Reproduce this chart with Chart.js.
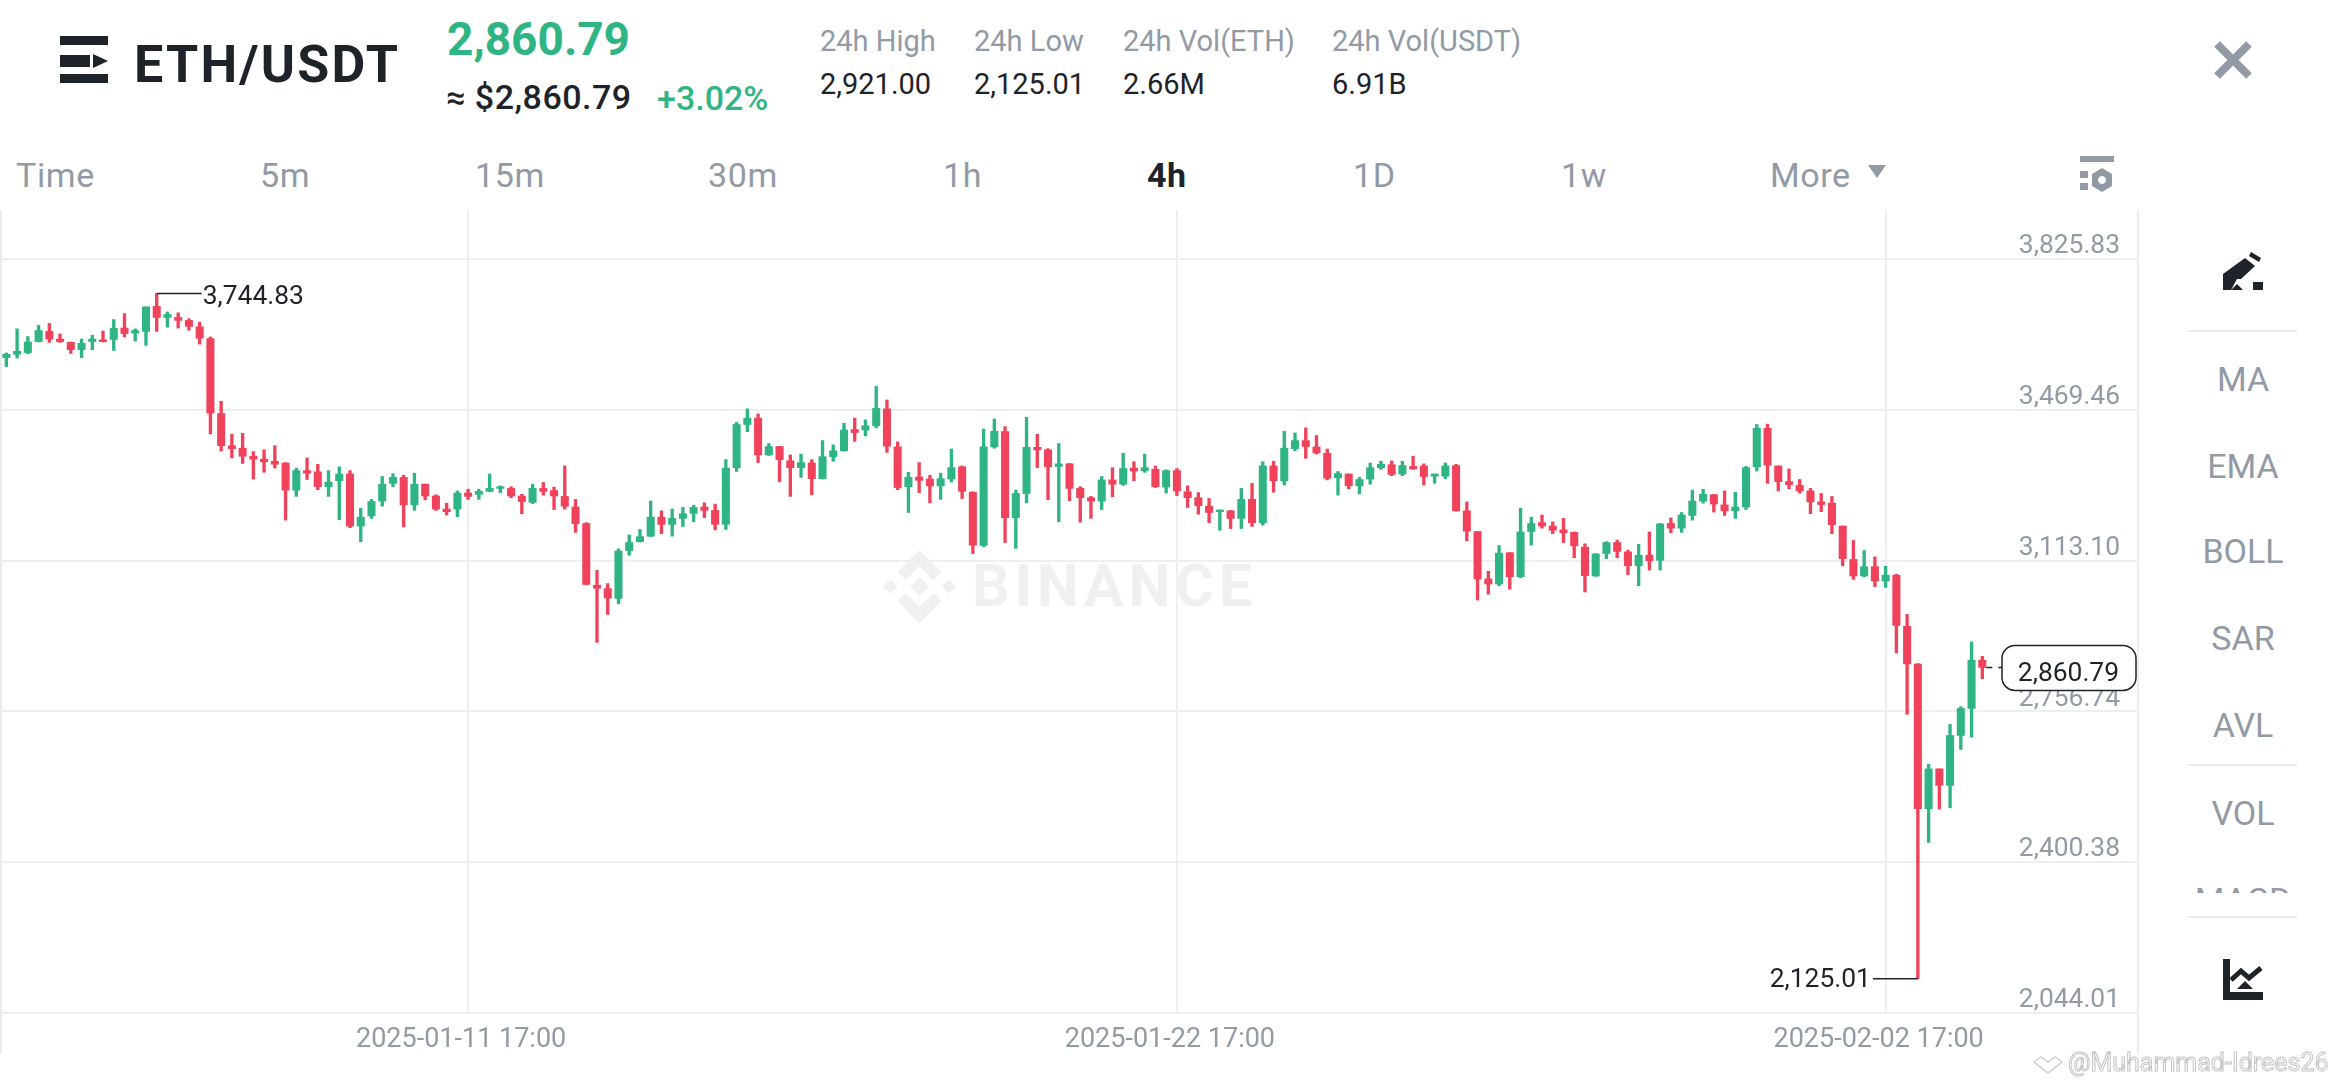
<!DOCTYPE html>
<html>
<head>
<meta charset="utf-8">
<title>ETH/USDT</title>
<script src="https://cdn.jsdelivr.net/npm/chart.js@4"></script>
<style>
html,body{margin:0;padding:0;background:#fff;width:2340px;height:1080px;overflow:hidden;font-family:Roboto,sans-serif;}
.t{position:absolute;white-space:nowrap;line-height:40px;height:40px;}
.grey{color:#929aa5;}
.dark{color:#1e2329;}
.green{color:#2fb583;}
.tab{font-size:34px;top:155px;color:#929aa5;letter-spacing:.6px;}
.stat{font-size:29px;}
.side{font-size:34px;color:#929aa5;width:160px;left:2163px;text-align:center;}
.hair{position:absolute;left:2187px;width:110px;height:2px;background:#eaecef;}
.vline{position:absolute;top:210px;width:2px;height:844px;background:#eaecef;}
svg{position:absolute;}
canvas{position:absolute;left:0;top:205px;}
</style>
</head>
<body>
<svg style="left:60px;top:36px" width="48" height="47" viewBox="0 0 48 47" fill="#1e2329">
<rect width="48" height="9"/><rect y="19" width="30" height="12"/><polygon points="33,18 48,25 33,32"/><rect y="38" width="48" height="9"/>
</svg>
<div class="t dark" style="left:134px;top:45px;font-size:52px;font-weight:700;letter-spacing:2.2px">ETH/USDT</div>
<div class="t green" style="left:447px;top:19px;font-size:46px;font-weight:700">2,860.79</div>
<div class="t dark" style="left:446px;top:77px;font-size:34px;font-weight:500;letter-spacing:.5px">≈ $2,860.79</div>
<div class="t green" style="left:657px;top:78px;font-size:34px;font-weight:500">+3.02%</div>
<div class="t stat grey" style="left:820px;top:21px">24h High</div>
<div class="t stat dark" style="left:820px;top:64px">2,921.00</div>
<div class="t stat grey" style="left:974px;top:21px">24h Low</div>
<div class="t stat dark" style="left:974px;top:64px">2,125.01</div>
<div class="t stat grey" style="left:1123px;top:21px">24h Vol(ETH)</div>
<div class="t stat dark" style="left:1123px;top:64px">2.66M</div>
<div class="t stat grey" style="left:1332px;top:21px">24h Vol(USDT)</div>
<div class="t stat dark" style="left:1332px;top:64px">6.91B</div>
<svg style="left:2214px;top:41px" width="38" height="38" viewBox="0 0 38 38"><path d="M3 3 L35 35 M35 3 L3 35" stroke="#929aa5" stroke-width="8"/></svg>

<div class="t tab" style="left:16px">Time</div>
<div class="t tab" style="left:260px">5m</div>
<div class="t tab" style="left:475px">15m</div>
<div class="t tab" style="left:708px">30m</div>
<div class="t tab" style="left:943px">1h</div>
<div class="t tab dark" style="left:1147px;font-weight:700;color:#1e2329">4h</div>
<div class="t tab" style="left:1353px">1D</div>
<div class="t tab" style="left:1561px">1w</div>
<div class="t tab" style="left:1770px">More</div>
<svg style="left:1868px;top:165px" width="18" height="13" viewBox="0 0 18 13"><polygon points="0,0 18,0 9,13" fill="#929aa5"/></svg>
<svg style="left:2080px;top:156px" width="34" height="36" viewBox="0 0 34 36" fill="#929aa5">
<rect width="34" height="6"/><rect y="15" width="8" height="7"/><rect y="27" width="8" height="7"/><path d="M22 12 L32 18 L32 30 L22 36 L12 30 L12 18 Z M22 20 a4 4 0 1 0 0.01 0 Z" fill-rule="evenodd"/>
</svg>

<!-- watermark -->
<svg style="left:883px;top:550px" width="73" height="73" viewBox="0 0 100 100" fill="#eef0f1">
<polygon points="50,37 63,50 50,63 37,50"/><polygon points="0,50 10,40 20,50 10,60"/><polygon points="80,50 90,40 100,50 90,60"/>
<polygon points="50,0 80,30 69,41 50,22 31,41 20,30"/><polygon points="50,100 80,70 69,59 50,78 31,59 20,70"/>
</svg>
<div class="t" style="left:972px;top:566px;font-size:59px;font-weight:700;color:#eef0f1;letter-spacing:5px">BINANCE</div>

<div class="vline" style="left:0"></div>
<div class="vline" style="left:2137px"></div>
<canvas id="klineChart" width="2142" height="851"></canvas>

<svg style="left:2223px;top:252px" width="40" height="38" viewBox="0 0 40 38" fill="#1e2329">
<polygon points="0,22 22,6 32,14 18,27 14,27 8,38 0,38"/><polygon points="28,0 38,6 36,10 26,4"/><polygon points="14,32 20,38 8,38"/><rect x="30" y="30" width="10" height="8"/>
</svg>
<div class="hair" style="top:330px"></div>
<div class="t side" style="top:359px">MA</div>
<div class="t side" style="top:446px">EMA</div>
<div class="t side" style="top:531px">BOLL</div>
<div class="t side" style="top:618px">SAR</div>
<div class="t side" style="top:705px">AVL</div>
<div class="hair" style="top:764px"></div>
<div class="t side" style="top:793px">VOL</div>
<div style="position:absolute;left:2163px;top:860px;width:160px;height:33px;overflow:hidden">
<div class="t side" style="left:0;top:20px">MACD</div>
</div>
<div class="hair" style="top:916px"></div>
<svg style="left:2223px;top:959px" width="40" height="41" viewBox="0 0 40 41" fill="#1e2329">
<path d="M0 0 H7 V33 H40 V41 H0 Z"/><path d="M8 21 L18 12 L26 19 L38 9" fill="none" stroke="#1e2329" stroke-width="5"/><polygon points="22,22 30,30 14,30"/>
</svg>

<svg style="left:2033px;top:1054px" width="30" height="20" viewBox="0 0 30 20" fill="none" stroke="#cfcfcf" stroke-width="1.5">
<path d="M1 8 L8 3 L15 8 L22 3 L29 8 L15 19 Z"/>
</svg>
<div class="t" style="left:2068px;top:1043px;font-size:25px;color:#fff;-webkit-text-stroke:1px #c4c4c4">@Muhammad-Idrees26</div>

<script>
const opens=[3593,3601,3605,3631,3655,3637,3629,3612,3631,3635,3636,3663,3651,3655,3714,3688,3688,3681,3666,3638,
3461,3385,3379,3360,3353,3348,3344,3280,3326,3323,3288,3302,3318,3195,3219,3254,3296,3310,3245,3294,
3266,3235,3235,3273,3270,3277,3284,3284,3266,3251,3284,3279,3265,3240,3201,3055,3047,3024,3137,3158,
3171,3216,3199,3213,3225,3240,3232,3199,3333,3435,3450,3363,3383,3349,3333,3344,3307,3359,3373,3423,
3422,3432,3472,3382,3288,3311,3306,3290,3306,3335,3275,3149,3382,3418,3215,3272,3381,3375,3336,3342,
3284,3262,3254,3304,3294,3332,3326,3329,3287,3326,3276,3262,3242,3229,3231,3213,3258,3203,3337,3302,
3378,3397,3382,3367,3309,3318,3290,3306,3333,3340,3318,3336,3337,3313,3313,3338,3231,3182,3070,3058,
3132,3075,3182,3203,3195,3186,3180,3145,3077,3130,3156,3134,3101,3126,3114,3201,3190,3220,3254,3269,
3245,3231,3240,3335,3426,3337,3300,3291,3278,3252,3249,3195,3116,3077,3099,3065,3079,2958,2869,2527,
2621,2582,2700,2764,2878];
const highs=[3604,3661,3643,3669,3674,3649,3630,3637,3646,3656,3683,3697,3661,3713,3744.83,3701,3699,3685,3677,3642,
3490,3412,3414,3371,3375,3385,3345,3332,3356,3341,3326,3335,3326,3237,3258,3312,3319,3315,3320,3294,
3269,3249,3278,3282,3282,3318,3290,3288,3270,3294,3298,3287,3337,3258,3203,3090,3059,3141,3174,3187,
3254,3231,3235,3239,3244,3250,3247,3352,3440,3472,3460,3390,3383,3363,3365,3352,3397,3387,3438,3450,
3446,3525,3493,3394,3322,3345,3315,3320,3377,3337,3276,3424,3448,3430,3280,3452,3412,3378,3390,3343,
3288,3265,3312,3333,3367,3347,3365,3337,3328,3331,3290,3274,3260,3233,3232,3284,3296,3347,3348,3419,
3415,3427,3409,3377,3324,3318,3310,3344,3348,3349,3348,3360,3342,3318,3344,3341,3252,3182,3088,3149,
3132,3237,3216,3221,3205,3213,3181,3153,3130,3158,3162,3138,3152,3181,3201,3214,3227,3280,3282,3270,
3278,3275,3336,3435,3436,3337,3330,3305,3284,3272,3265,3195,3161,3137,3122,3100,3081,2986,2870,2632,
2621,2726,2768,2921,2887];
const lows=[3572,3592,3602,3630,3629,3629,3603,3593,3612,3630,3610,3642,3632,3622,3655,3665,3663,3658,3625,3413,
3372,3356,3343,3306,3322,3332,3209,3265,3305,3281,3265,3210,3191,3158,3213,3242,3288,3193,3232,3257,
3232,3221,3217,3258,3258,3276,3274,3262,3224,3248,3268,3234,3235,3180,3056,2920,2986,3011,3126,3157,
3170,3177,3171,3194,3205,3215,3186,3187,3324,3418,3345,3362,3300,3265,3310,3269,3306,3348,3372,3395,
3408,3427,3369,3281,3227,3274,3250,3258,3299,3260,3130,3146,3379,3156,3142,3250,3333,3257,3205,3255,
3204,3213,3234,3264,3291,3302,3322,3286,3273,3267,3239,3223,3203,3185,3189,3189,3194,3197,3275,3292,
3373,3355,3365,3304,3268,3283,3271,3294,3329,3314,3314,3329,3292,3296,3307,3230,3160,3020,3034,3054,
3046,3073,3150,3190,3177,3156,3120,3039,3076,3118,3120,3080,3054,3091,3091,3179,3180,3209,3249,3228,
3220,3213,3234,3325,3296,3278,3283,3273,3224,3229,3177,3101,3069,3075,3052,3050,2895,2750,2125.01,2447,
2526,2529,2667,2696,2834];
const closes=[3601,3608,3630,3657,3637,3631,3612,3627,3637,3631,3662,3650,3657,3713,3688,3695,3681,3667,3639,3462,
3385,3378,3360,3353,3347,3341,3280,3326,3320,3288,3299,3318,3195,3216,3253,3294,3310,3245,3294,3266,
3235,3229,3273,3265,3277,3284,3288,3266,3253,3284,3277,3266,3242,3201,3057,3048,3025,3136,3156,3170,
3216,3199,3213,3224,3239,3232,3199,3332,3435,3450,3363,3383,3352,3333,3345,3307,3359,3373,3422,3416,
3432,3473,3384,3286,3310,3303,3290,3307,3333,3277,3150,3382,3419,3215,3272,3381,3375,3335,3342,3284,
3262,3254,3304,3294,3331,3325,3333,3288,3326,3278,3262,3243,3227,3233,3213,3258,3203,3337,3302,3379,
3397,3383,3368,3308,3319,3290,3305,3333,3341,3317,3338,3330,3312,3318,3337,3231,3183,3070,3058,3131,
3075,3181,3201,3195,3185,3179,3148,3078,3129,3156,3135,3101,3126,3113,3200,3190,3221,3254,3270,3247,
3231,3240,3333,3426,3339,3300,3293,3278,3252,3246,3198,3118,3077,3099,3065,3079,2960,2869,2527,2621,
2582,2700,2764,2878,2860.79];

const yTicks=[3825.83,3469.46,3113.10,2756.74,2400.38,2044.01];
const tickDates=['2025-01-11 17:00','2025-01-22 17:00','2025-02-02 17:00'];
const highMark={index:14,value:3744.83,text:'3,744.83'};
const lowMark={index:178,value:2125.01,text:'2,125.01'};
const lastPrice=2860.79;

const upColor='#2fb583';
const downColor='#f0435b';
const gridColor='#eeeff1';
const tickColor='#929aa5';
const textColor='#1e2329';
const axisFont={family:'Roboto',size:26.4};

// 4h candles, the extra empty slots are the blank space on the right of the last candle
const emptySlots=14;
const startTime=Date.UTC(2025,0,4,13);
const times=[];
for(let i=0;i<opens.length+emptySlots;i++){
    times.push(new Date(startTime+i*4*3600*1000).toISOString().slice(0,16).replace('T',' '));
}

const candleColors=opens.map((o,i)=> closes[i]>=o ? upColor : downColor);

const marksPlugin={
    id:'marks',
    afterDraw(chart){
        const c=chart.ctx;
        const x=chart.scales.x;
        const y=chart.scales.y;
        c.save();
        c.font='26.4px Roboto';
        c.fillStyle=textColor;
        c.strokeStyle=textColor;
        c.lineWidth=1.5;
        c.textBaseline='middle';

        // highest price label goes to the right, lowest to the left
        let px=x.getPixelForValue(highMark.index);
        let py=y.getPixelForValue(highMark.value);
        c.beginPath();c.moveTo(px,py);c.lineTo(px+45,py);c.stroke();
        c.textAlign='left';
        c.fillText(highMark.text,px+46,py+4);

        px=x.getPixelForValue(lowMark.index);
        py=y.getPixelForValue(lowMark.value);
        c.beginPath();c.moveTo(px,py);c.lineTo(px-45,py);c.stroke();
        c.textAlign='right';
        c.fillText(lowMark.text,px-47,py+2);

        // current price pill
        px=x.getPixelForValue(opens.length-1);
        py=y.getPixelForValue(lastPrice);
        const right=chart.chartArea.right;
        c.setLineDash([6,6]);
        c.beginPath();c.moveTo(px+4,py);c.lineTo(right-136,py);c.stroke();
        c.setLineDash([]);
        c.beginPath();
        c.roundRect(right-136,py-22,134,45,13);
        c.fillStyle='#fff';
        c.fill();
        c.stroke();
        c.fillStyle=textColor;
        c.textAlign='right';
        c.fillText('2,860.79',right-19,py+7);
        c.restore();
    }
};

new Chart(document.getElementById('klineChart'),{
    type:'bar',
    data:{
        labels:times,
        datasets:[
            {
                label:'wick',
                data:lows.map((l,i)=> [l,highs[i]]),
                backgroundColor:candleColors,
                barThickness:2.7,
                grouped:false
            },
            {
                label:'body',
                data:opens.map((o,i)=> [o,closes[i]]),
                backgroundColor:candleColors,
                barThickness:7.4,
                grouped:false
            }
        ]
    },
    options:{
        responsive:false,
        animation:false,
        layout:{padding:{left:1,right:4,top:5,bottom:0}},
        plugins:{legend:{display:false},tooltip:{enabled:false}},
        scales:{
            x:{
                offset:true,
                border:{display:false},
                grid:{color:gridColor,lineWidth:2,drawTicks:false,offset:false},
                afterBuildTicks:axis=> {
                    axis.ticks=tickDates.map(d=> ({value:times.indexOf(d)}));
                },
                afterFit:axis=> {
                    axis.height=43;
                    axis.paddingLeft=0;
                    axis.paddingRight=0;
                },
                ticks:{
                    autoSkip:false,
                    maxRotation:0,
                    color:tickColor,
                    font:{family:'Roboto',size:27},
                    padding:11,
                    labelOffset:-7
                }
            },
            y:{
                position:'right',
                min:yTicks[yTicks.length-1],
                max:3942,
                border:{display:false},
                grid:{color:gridColor,lineWidth:2,drawTicks:false},
                afterBuildTicks:axis=> {
                    axis.ticks=yTicks.map(v=> ({value:v}));
                },
                // mirrored labels: no room needed beside or above the plot
                afterFit:axis=> {
                    axis.width=0;
                    axis.paddingTop=0;
                    axis.paddingBottom=0;
                },
                ticks:{
                    mirror:true,
                    padding:-18,
                    color:tickColor,
                    font:axisFont,
                    labelOffset:-12.5,
                    callback:v=> v.toLocaleString('en-US',{minimumFractionDigits:2,maximumFractionDigits:2})
                }
            }
        }
    },
    plugins:[marksPlugin]
});
</script>
</body>
</html>
